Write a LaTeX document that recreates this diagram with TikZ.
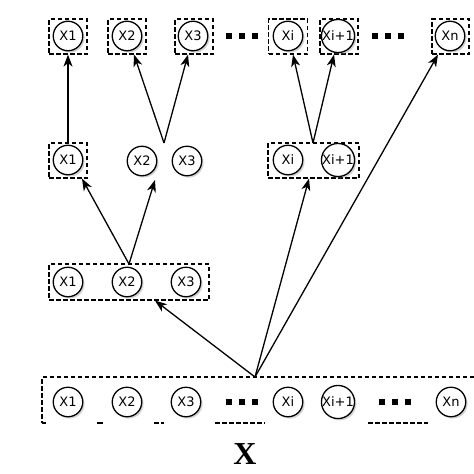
\documentclass[tikz,border=0pt]{standalone}
\usepackage{fontspec}
\setsansfont{DejaVu Sans}
\setmainfont{Liberation Serif}
\usetikzlibrary{shadows,arrows.meta,calc}
\begin{document}
\begin{tikzpicture}[x=1pt,y=-1pt,
  circ/.style={circle,draw,line width=1.3pt,fill=white,minimum size=29.5pt,inner sep=0pt,
    font=\sffamily\fontsize{13}{15}\selectfont,
    drop shadow={opacity=0.35,shadow xshift=1.8pt,shadow yshift=-1.8pt,fill=gray}},
  dbox/.style={draw,line width=1.2pt,dash pattern=on 4.5pt off 2.5pt,minimum height=35pt,inner sep=0pt},
  dline/.style={line width=1.2pt,dash pattern=on 4.5pt off 2.5pt},
  sq/.style={fill=black,minimum size=6.5pt,inner sep=0pt},
  arr/.style={line width=1.3pt,-{Stealth[length=12pt,width=9pt,inset=3.5pt]}}]
\useasboundingbox (0,0) rectangle (474,474);

% top row
\node[dbox,minimum width=38pt] (tb1) at (68,36.5) {};
\node[circ] (t1) at (68,36) {X1};
\node[dbox,minimum width=38pt] (tb2) at (127,36.5) {};
\node[circ] (t2) at (127,36) {X2};
\node[dbox,minimum width=38pt] (tb3) at (194,36.5) {};
\node[circ] (t3) at (193,36) {X3};
\node[sq] (td1) at (229,36) {};
\node[sq] (td2) at (242,36) {};
\node[sq] (td3) at (255,36) {};
\node[dbox,minimum width=39pt] (tbi) at (288,36.5) {};
\node[circ] (ti) at (288,36) {Xi};
\node[dbox,minimum width=38pt] (tbj) at (339,36.5) {};
\node[circ] (tj) at (338,36) {Xi+1};
\node[sq] (te1) at (375,36) {};
\node[sq] (te2) at (388,36) {};
\node[sq] (te3) at (401,36) {};
\node[dbox,minimum width=37pt] (tbn) at (450.5,36.5) {};
\node[circ] (tn) at (450,36) {Xn};

% middle row
\node[dbox,minimum width=38pt] (mb1) at (68,160.5) {};
\node[circ] (m1) at (68,160) {X1};
\node[circ] (m2) at (142,161) {X2};
\node[circ] (m3) at (187,161) {X3};
\node[dbox,minimum width=91pt] (mbi) at (313.5,160.5) {};
\node[circ] (mi) at (288,160) {Xi};
\node[circ] (mj) at (338,160) {Xi+1};

% third row
\node[dbox,minimum width=160pt,minimum height=36pt] (rb) at (129,282) {};
\node[circ] (r1) at (68,282) {X1};
\node[circ] (r2) at (127,282) {X2};
\node[circ] (r3) at (186,282) {X3};

% bottom row
\coordinate (bl) at (42,377);
\coordinate (br) at (474,377);
\coordinate (bll) at (42,423);
\draw[dline] (br) -- (bl) -- (bll);
\draw[line width=1.2pt] (bll) -- ++(4,0);
\draw[line width=1.2pt] (97,423) -- (103,423);
\draw[dline] (154,423) -- (164,423);
\draw[dline] (215,423) -- (265,423);
\draw[dline] (368,423) -- (428,423);
\node[circ] (b1) at (68,402) {X1};
\node[circ] (b2) at (127,402) {X2};
\node[circ] (b3) at (186,402) {X3};
\node[sq] (bd1) at (229,402) {};
\node[sq] (bd2) at (242,402) {};
\node[sq] (bd3) at (255,402) {};
\node[circ] (bi) at (288,402) {Xi};
\node[circ] (bj) at (338,402) {Xi+1};
\node[sq] (be1) at (382,402) {};
\node[sq] (be2) at (395,402) {};
\node[sq] (be3) at (408,402) {};
\node[circ] (bn) at (451,402) {Xn};

\node[font=\bfseries\fontsize{32}{34}\selectfont] (xl) at (245,454) {X};

% junction points
\coordinate (c1) at (164,143);
\coordinate (c2) at (313,143);
\coordinate (c3) at (129,264);
\coordinate (c4) at (255,377);

% arrows
\draw[arr] (mb1.north) -- (tb1.south);
\draw[arr] (c1) -- ([xshift=7pt]tb2.south);
\draw[arr] (c1) -- ([xshift=-6pt]tb3.south);
\draw[arr] (c2) -- ([xshift=5pt]tbi.south);
\draw[arr] (c2) -- ([xshift=-5pt]tbj.south);
\draw[arr] (c3) -- ([xshift=14pt]mb1.south);
\draw[arr] (c3) -- (155,180);
\draw[arr] (c4) -- ([xshift=26pt]rb.south);
\draw[arr] (c4) -- ([xshift=-4.5pt]mbi.south);
\draw[arr] (c4) -- ([xshift=-12.5pt]tbn.south);
\end{tikzpicture}
\end{document}
